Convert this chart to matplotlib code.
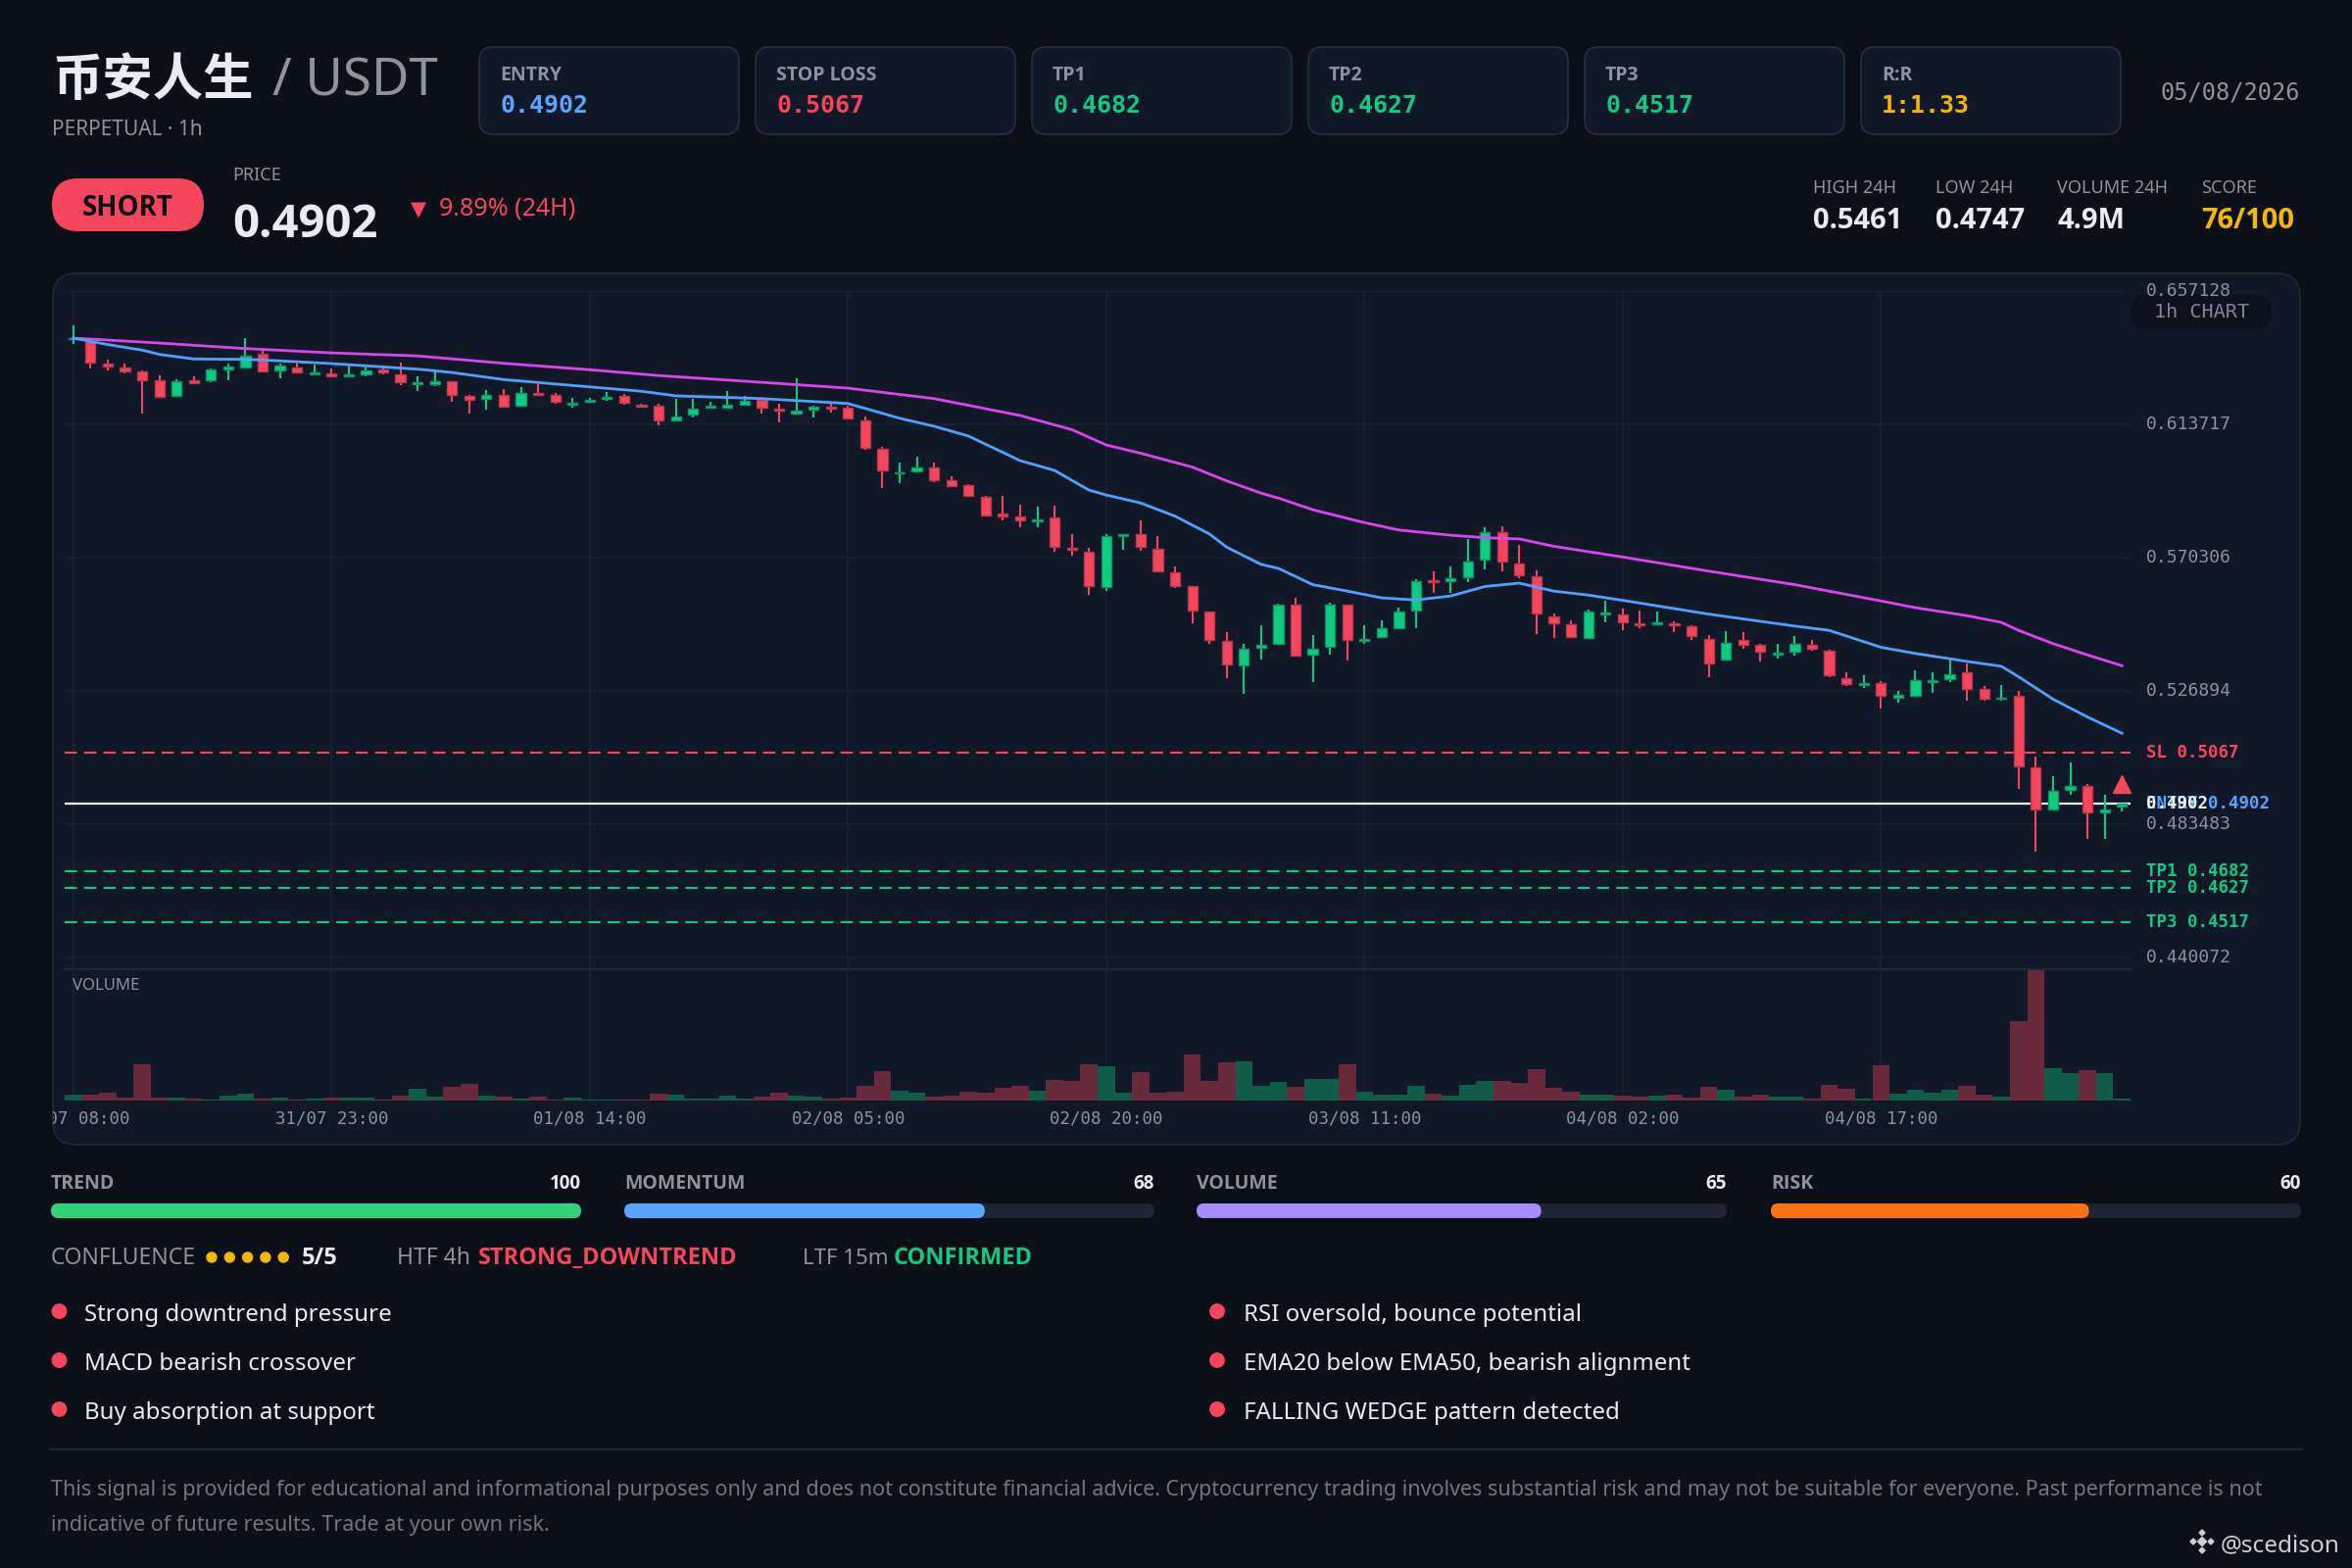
import matplotlib
matplotlib.use("Agg")
import matplotlib.pyplot as plt
from matplotlib import font_manager as fm
from matplotlib.patches import FancyBboxPatch, Circle, Polygon
from matplotlib.lines import Line2D
from matplotlib.transforms import Affine2D, Bbox, TransformedBbox, blended_transform_factory

# ---- values ----
symbol = "币安人生"
quote = "USDT"
entry, stop_loss = 0.4902, 0.5067
tp1, tp2, tp3 = 0.4682, 0.4627, 0.4517
rr = "1:1.33"
date_str = "05/08/2026"
price = 0.4902
change_24h = 9.89
high_24h, low_24h = 0.5461, 0.4747
vol_24h = "4.9M"
score = "76/100"
signal_price = 0.4965

# 1h candles, 30/07 08:00 -> 05/08 07:00
opens = [0.6414, 0.6407, 0.6335, 0.6323, 0.6310, 0.6280, 0.6229, 0.6282, 0.6280, 0.6317,
         0.6321, 0.6368, 0.6312, 0.6321, 0.6301, 0.6303, 0.6294, 0.6301, 0.6315, 0.6301,
         0.6267, 0.6268, 0.6277, 0.6230, 0.6219, 0.6232, 0.6198, 0.6240, 0.6234, 0.6202,
         0.6210, 0.6219, 0.6231, 0.6202, 0.6197, 0.6149, 0.6168, 0.6191, 0.6193, 0.6200,
         0.6216, 0.6189, 0.6173, 0.6184, 0.6196, 0.6191, 0.6151, 0.6058, 0.5977, 0.5985,
         0.5996, 0.5955, 0.5939, 0.5902, 0.5846, 0.5836, 0.5820, 0.5835, 0.5735, 0.5721,
         0.5606, 0.5772, 0.5779, 0.5732, 0.5656, 0.5610, 0.5528, 0.5432, 0.5351, 0.5410,
         0.5423, 0.5551, 0.5388, 0.5413, 0.5551, 0.5432, 0.5445, 0.5473, 0.5532, 0.5630,
         0.5628, 0.5639, 0.5698, 0.5787, 0.5684, 0.5644, 0.5513, 0.5487, 0.5442, 0.5518,
         0.5519, 0.5490, 0.5487, 0.5490, 0.5480, 0.5439, 0.5370, 0.5434, 0.5418, 0.5388,
         0.5397, 0.5420, 0.5400, 0.5312, 0.5289, 0.5296, 0.5248, 0.5253, 0.5298, 0.5308,
         0.5328, 0.5274, 0.5242, 0.5253, 0.5019, 0.4883, 0.4948, 0.4958, 0.4873, 0.4892]
highs = [0.6461, 0.6418, 0.6347, 0.6335, 0.6312, 0.6296, 0.6285, 0.6293, 0.6319, 0.6335,
         0.6418, 0.6376, 0.6335, 0.6335, 0.6333, 0.6319, 0.6335, 0.6324, 0.6328, 0.6338,
         0.6293, 0.6309, 0.6277, 0.6232, 0.6250, 0.6252, 0.6260, 0.6268, 0.6239, 0.6223,
         0.6223, 0.6243, 0.6235, 0.6205, 0.6205, 0.6221, 0.6219, 0.6211, 0.6245, 0.6229,
         0.6221, 0.6204, 0.6287, 0.6197, 0.6205, 0.6198, 0.6162, 0.6064, 0.6014, 0.6032,
         0.6013, 0.5969, 0.5943, 0.5904, 0.5904, 0.5875, 0.5869, 0.5872, 0.5779, 0.5734,
         0.5779, 0.5779, 0.5823, 0.5774, 0.5674, 0.5610, 0.5528, 0.5460, 0.5421, 0.5482,
         0.5554, 0.5572, 0.5450, 0.5556, 0.5551, 0.5482, 0.5500, 0.5540, 0.5633, 0.5659,
         0.5675, 0.5764, 0.5802, 0.5804, 0.5746, 0.5661, 0.5522, 0.5500, 0.5534, 0.5562,
         0.5537, 0.5530, 0.5528, 0.5495, 0.5482, 0.5452, 0.5464, 0.5461, 0.5423, 0.5423,
         0.5448, 0.5434, 0.5402, 0.5328, 0.5320, 0.5301, 0.5269, 0.5335, 0.5328, 0.5370,
         0.5359, 0.5285, 0.5287, 0.5269, 0.5056, 0.4992, 0.5035, 0.4966, 0.4932, 0.4903]
lows = [0.6400, 0.6319, 0.6312, 0.6303, 0.6173, 0.6223, 0.6227, 0.6268, 0.6274, 0.6280,
        0.6319, 0.6311, 0.6287, 0.6304, 0.6298, 0.6290, 0.6293, 0.6293, 0.6300, 0.6266,
        0.6246, 0.6262, 0.6209, 0.6171, 0.6184, 0.6193, 0.6198, 0.6230, 0.6205, 0.6193,
        0.6207, 0.6213, 0.6202, 0.6193, 0.6133, 0.6147, 0.6160, 0.6189, 0.6189, 0.6200,
        0.6172, 0.6145, 0.6171, 0.6161, 0.6177, 0.6155, 0.6055, 0.5929, 0.5945, 0.5985,
        0.5950, 0.5937, 0.5902, 0.5838, 0.5825, 0.5803, 0.5803, 0.5723, 0.5711, 0.5583,
        0.5593, 0.5727, 0.5724, 0.5654, 0.5604, 0.5490, 0.5421, 0.5309, 0.5260, 0.5370,
        0.5418, 0.5381, 0.5298, 0.5386, 0.5367, 0.5423, 0.5441, 0.5471, 0.5474, 0.5588,
        0.5588, 0.5623, 0.5666, 0.5659, 0.5636, 0.5455, 0.5442, 0.5442, 0.5437, 0.5492,
        0.5468, 0.5473, 0.5485, 0.5462, 0.5436, 0.5315, 0.5368, 0.5407, 0.5365, 0.5375,
        0.5384, 0.5399, 0.5315, 0.5285, 0.5278, 0.5210, 0.5232, 0.5251, 0.5264, 0.5298,
        0.5237, 0.5237, 0.5237, 0.4950, 0.4747, 0.4879, 0.4929, 0.4787, 0.4787, 0.4877]
closes = [0.6418, 0.6338, 0.6325, 0.6311, 0.6280, 0.6227, 0.6278, 0.6272, 0.6317, 0.6326,
          0.6362, 0.6311, 0.6328, 0.6306, 0.6306, 0.6293, 0.6299, 0.6314, 0.6305, 0.6274,
          0.6274, 0.6277, 0.6232, 0.6218, 0.6232, 0.6195, 0.6239, 0.6232, 0.6209, 0.6207,
          0.6216, 0.6228, 0.6207, 0.6195, 0.6150, 0.6162, 0.6189, 0.6198, 0.6200, 0.6213,
          0.6191, 0.6181, 0.6182, 0.6195, 0.6187, 0.6157, 0.6062, 0.5987, 0.5982, 0.5996,
          0.5955, 0.5937, 0.5905, 0.5841, 0.5838, 0.5824, 0.5828, 0.5737, 0.5727, 0.5609,
          0.5774, 0.5779, 0.5737, 0.5657, 0.5612, 0.5530, 0.5434, 0.5354, 0.5406, 0.5418,
          0.5551, 0.5383, 0.5405, 0.5551, 0.5434, 0.5439, 0.5473, 0.5528, 0.5628, 0.5622,
          0.5635, 0.5691, 0.5787, 0.5691, 0.5645, 0.5521, 0.5490, 0.5445, 0.5526, 0.5523,
          0.5492, 0.5482, 0.5491, 0.5483, 0.5447, 0.5357, 0.5426, 0.5420, 0.5397, 0.5392,
          0.5423, 0.5405, 0.5319, 0.5290, 0.5296, 0.5253, 0.5255, 0.5304, 0.5303, 0.5322,
          0.5276, 0.5242, 0.5248, 0.5024, 0.4883, 0.4944, 0.4960, 0.4872, 0.4883, 0.4902]
# volume in thousands
volumes = [60, 60, 80, 30, 370, 30, 33, 20, 10, 53,
           67, 23, 30, 10, 17, 27, 27, 30, 10, 53,
           117, 37, 143, 173, 50, 37, 17, 37, 10, 27,
           13, 10, 7, 7, 70, 57, 17, 23, 50, 20,
           40, 80, 53, 40, 17, 30, 153, 300, 100, 77,
           40, 47, 90, 83, 133, 150, 97, 210, 207, 370,
           350, 77, 290, 80, 90, 470, 207, 393, 407, 153,
           193, 143, 227, 220, 373, 87, 57, 57, 147, 70,
           53, 163, 207, 200, 183, 320, 130, 87, 60, 60,
           47, 40, 50, 63, 27, 140, 110, 37, 57, 40,
           43, 23, 160, 123, 20, 363, 67, 113, 77, 113,
           150, 60, 43, 817, 1340, 330, 283, 310, 280, 20]

ema20_idx = [0, 2, 4, 5, 7, 10, 12, 15, 20, 22, 25, 30, 33, 35, 40, 45, 46, 48, 50, 52,
             55, 57, 59, 60, 62, 64, 66, 67, 69, 70, 72, 74, 76, 78, 80, 82, 84, 86, 88, 90,
             95, 100, 102, 105, 107, 110, 112, 113, 115, 117, 119]
ema20_val = [0.6418, 0.6397, 0.6379, 0.6365, 0.6350, 0.6349, 0.6344, 0.6335, 0.6317, 0.6306,
             0.6283, 0.6259, 0.6245, 0.6230, 0.6221, 0.6205, 0.6189, 0.6157, 0.6131, 0.6099,
             0.6019, 0.5987, 0.5923, 0.5907, 0.5881, 0.5838, 0.5780, 0.5737, 0.5681, 0.5668,
             0.5615, 0.5594, 0.5572, 0.5565, 0.5578, 0.5609, 0.5620, 0.5594, 0.5581, 0.5564,
             0.5519, 0.5480, 0.5466, 0.5411, 0.5391, 0.5365, 0.5349, 0.5315, 0.5242, 0.5184,
             0.5131]
ema50_idx = [0, 5, 10, 15, 20, 25, 30, 34, 40, 45, 50, 55, 58, 60, 62, 65, 67, 69, 70, 72,
             75, 77, 80, 82, 84, 86, 90, 95, 100, 105, 107, 110, 112, 113, 115, 117, 119]
ema50_val = [0.6418, 0.6402, 0.6384, 0.6370, 0.6360, 0.6336, 0.6315, 0.6296, 0.6274, 0.6255,
             0.6221, 0.6166, 0.6120, 0.6070, 0.6043, 0.5998, 0.5953, 0.5913, 0.5897, 0.5859,
             0.5817, 0.5793, 0.5776, 0.5768, 0.5764, 0.5740, 0.5705, 0.5659, 0.5615, 0.5562,
             0.5540, 0.5514, 0.5492, 0.5466, 0.5423, 0.5386, 0.5351]

time_idx = [0, 15, 30, 45, 60, 75, 90, 105]
time_labels = ["30/07 08:00", "31/07 23:00", "01/08 14:00", "02/08 05:00",
               "02/08 20:00", "03/08 11:00", "04/08 02:00", "04/08 17:00"]
price_ticks = [0.440072, 0.483483, 0.526894, 0.570306, 0.613717, 0.657128]

score_names = ["TREND", "MOMENTUM", "VOLUME", "RISK"]
score_values = [100, 68, 65, 60]
score_colors = ["#34d17b", "#58a6ff", "#a78bfa", "#f97316"]

confluence, confluence_max = 5, 5
htf_trend = "STRONG_DOWNTREND"
ltf_state = "CONFIRMED"
reasons_left = ["Strong downtrend pressure", "MACD bearish crossover", "Buy absorption at support"]
reasons_right = ["RSI oversold, bounce potential", "EMA20 below EMA50, bearish alignment",
                 "FALLING WEDGE pattern detected"]
disclaimer = [
    "This signal is provided for educational and informational purposes only and does not constitute "
    "financial advice. Cryptocurrency trading involves substantial risk and may not be suitable for "
    "everyone. Past performance is not",
    "indicative of future results. Trade at your own risk.",
]
handle = "@scedison"

# ---- style ----
W, H = 2400, 1600
BG = "#0b0f17"
PANEL = "#111827"
EDGE = "#253043"
GRID = "#1a2331"
MUTED = "#8b949e"
WHITE = "#e6edf3"
RED = "#f6465d"
GREEN = "#0ecb81"
BLUE = "#58a6ff"
AMBER = "#f5b800"
MONO = ["DejaVu Sans Mono"]


def weight_of(f):
    w = f.weight
    if isinstance(w, str):
        w = {"bold": 700, "semibold": 600, "demibold": 600, "heavy": 800, "black": 900,
             "extra bold": 800}.get(w.lower(), 400)
    return w


# first sans family that really has a bold face
bold_fam = "DejaVu Sans"
for cand in ["Noto Sans", "Open Sans", "Lato", "Roboto", "Inter"]:
    if any(f.name == cand and weight_of(f) >= 600 for f in fm.fontManager.ttflist):
        bold_fam = cand
        break
SANS = ["Noto Sans", "Noto Sans CJK SC", "DejaVu Sans"]
SANS_B = [bold_fam, "DejaVu Sans"]

fig = plt.figure(figsize=(24, 16), dpi=100, facecolor=BG)
# pixel coords, origin top-left
PX = Affine2D().scale(1 / W, -1 / H).translate(0, 1) + fig.transFigure


def txt(x, y, s, size, color=WHITE, weight="normal", family=None, ha="left", va="baseline", transform=PX):
    if family is None:
        family = SANS_B if weight == "bold" else SANS
    return fig.text(x, y, s, transform=transform, fontsize=size, color=color,
                    fontweight=weight, family=family, ha=ha, va=va)


def rbox(x, y, w, h, r, fc, ec="none", lw=0, z=-5):
    p = FancyBboxPatch((x, y), w, h, boxstyle=f"round,pad=0,rounding_size={r}",
                       transform=PX, fc=fc, ec=ec, lw=lw, zorder=z)
    fig.add_artist(p)
    return p


def hline(x0, x1, y, color, lw):
    fig.add_artist(Line2D([x0, x1], [y, y], transform=PX, color=color, lw=lw, zorder=-3))


# ---- header ----
txt(54, 97, symbol, 37, WHITE, "bold", family=["Noto Sans CJK SC", "DejaVu Sans"])
txt(278, 97, "/ " + quote, 38, MUTED)
txt(53, 138, "PERPETUAL · 1h", 15, MUTED)

card_labels = ["ENTRY", "STOP LOSS", "TP1", "TP2", "TP3", "R:R"]
card_values = [f"{entry:.4f}", f"{stop_loss:.4f}", f"{tp1:.4f}", f"{tp2:.4f}", f"{tp3:.4f}", rr]
card_colors = [BLUE, RED, GREEN, GREEN, GREEN, AMBER]
for k in range(6):
    x = 489 + 282 * k
    rbox(x, 48, 265, 89, 14, PANEL, EDGE, 1.2)
    txt(x + 21, 82, card_labels[k], 14, MUTED, "bold")
    txt(x + 21, 115, card_values[k], 18, card_colors[k], "bold", family=MONO)

txt(2347, 102, date_str, 17, MUTED, family=MONO, ha="right")

rbox(53, 182, 155, 54, 27, RED)
txt(130.5, 220, "SHORT", 20, "#0b0f17", "bold", ha="center")
txt(237, 184, "PRICE", 13, MUTED)
txt(237, 242, f"{price:.4f}", 34, WHITE, "bold")
txt(419, 220, "▼", 15, RED, family=["DejaVu Sans"])
txt(448, 220, f"{change_24h:.2f}% (24H)", 18, RED)

stat_x = [1850, 1975, 2099, 2246]
stat_names = ["HIGH 24H", "LOW 24H", "VOLUME 24H", "SCORE"]
stat_vals = [f"{high_24h:.4f}", f"{low_24h:.4f}", vol_24h, score]
stat_cols = [WHITE, WHITE, WHITE, AMBER]
for x, nm, v, c in zip(stat_x, stat_names, stat_vals, stat_cols):
    txt(x, 197, nm, 13, MUTED)
    txt(x, 233, v, 21, c, "bold")

# ---- chart panel ----
rbox(54, 279, 2293, 889, 24, PANEL, "#1f2a3a", 1.2, z=-6)

n = len(closes)
idx = list(range(n))
step = price_ticks[1] - price_ticks[0]

ax = fig.add_axes([66 / W, 1 - 989 / H, 2108 / W, (989 - 297) / H])
ax.set_axis_off()
ax.set_xlim(-0.5, n - 0.5)
ax.set_ylim(price_ticks[0] - step * 12 / 136, price_ticks[-1])

axv = fig.add_axes([66 / W, 1 - 1123 / H, 2108 / W, (1123 - 989) / H])
axv.set_axis_off()
axv.set_xlim(-0.5, n - 0.5)
axv.set_ylim(0, max(volumes) * 1.01)

for v in price_ticks:
    ax.axhline(v, color=GRID, lw=1.2, zorder=0)
for t in time_idx:
    ax.axvline(t, color=GRID, lw=1.2, zorder=0)
    axv.axvline(t, color=GRID, lw=1.2, zorder=0)

# level lines
ax.axhline(stop_loss, color=RED, lw=1.5, ls=(0, (6, 3.5)), zorder=1)
for tp in (tp1, tp2, tp3):
    ax.axhline(tp, color=GREEN, lw=1.5, ls=(0, (6, 3.5)), zorder=1)
ax.axhline(entry, color="#f0f3f6", lw=1.6, zorder=1)

# candles
up = [c >= o for o, c in zip(opens, closes)]
cols = [GREEN if u else RED for u in up]
edges = ["#0b9463" if u else "#b8364b" for u in up]
bottoms = [min(o, c) for o, c in zip(opens, closes)]
bodies = [max(abs(c - o), 0.00035) for o, c in zip(opens, closes)]
ax.vlines(idx, lows, highs, colors=cols, lw=1.5, zorder=2)
ax.bar(idx, bodies, bottom=bottoms, width=0.58, color=cols, edgecolor=edges, linewidth=1, zorder=3)

ax.plot(ema50_idx, ema50_val, color="#d946ef", lw=2, zorder=4)
ax.plot(ema20_idx, ema20_val, color="#4ea1ff", lw=2, zorder=4)
ax.plot([n - 1], [signal_price], marker="^", ms=13, color=RED, ls="none", zorder=5)

# volume
vcols = ["#105c49" if u else "#68293c" for u in up]
axv.bar(idx, volumes, width=1.0, color=vcols, zorder=2)
hline(66, 2174, 989, "#1e2838", 1.5)
txt(74, 1010, "VOLUME", 12, MUTED)

# price labels on the right
yt = blended_transform_factory(PX, ax.transData)
for v in price_ticks:
    txt(2190, v, f"{v:.6f}", 13, MUTED, family=MONO, va="center", transform=yt)
txt(2190, stop_loss, f"SL {stop_loss:.4f}", 12.5, RED, "bold", family=MONO, va="center", transform=yt)
txt(2190, entry, f"ENTRY {entry:.4f}", 12.5, BLUE, "bold", family=MONO, va="center", transform=yt)
txt(2190, entry, f"{price:.4f}", 12.5, "#f0f3f6", "bold", family=MONO, va="center", transform=yt)
for nm, tp in (("TP1", tp1), ("TP2", tp2), ("TP3", tp3)):
    txt(2190, tp, f"{nm} {tp:.4f}", 12.5, GREEN, "bold", family=MONO, va="center", transform=yt)

rbox(2174, 300, 144, 36, 18, "#0c121c", z=-4)
txt(2246, 318, "1h CHART", 14.5, "#7d8590", family=MONO, ha="center", va="center")

# time labels, clipped to the panel
xt = blended_transform_factory(axv.transData, PX)
clip = TransformedBbox(Bbox([[54 / W, 0], [2347 / W, 1]]), fig.transFigure)
for t, lab in zip(time_idx, time_labels):
    tl = txt(t, 1142, lab, 12.5, MUTED, family=MONO, ha="center", va="center", transform=xt)
    tl.set_clip_box(clip)
    tl.set_clip_on(True)

# ---- score bars ----
bar_x = [52, 637, 1221, 1807]
bar_w = 541
for x, nm, v, c in zip(bar_x, score_names, score_values, score_colors):
    txt(x, 1213, nm, 14, MUTED, "bold")
    txt(x + bar_w, 1213, str(v), 13.5, WHITE, "bold", ha="right")
    rbox(x, 1228, bar_w, 15, 7.5, "#1e2533", z=-4)
    rbox(x, 1228, bar_w * v / 100, 15, 7.5, c, z=-3)

txt(52, 1290, "CONFLUENCE", 16.5, MUTED)
for k in range(confluence):
    fig.add_artist(Circle((216 + 18.3 * k, 1283), 5, transform=PX, color=AMBER))
txt(308, 1290, f"{confluence}/{confluence_max}", 17, WHITE, "bold")
txt(405, 1290, "HTF 4h", 16.5, MUTED)
txt(488, 1290, htf_trend, 17, RED, "bold")
txt(819, 1290, "LTF 15m", 16, MUTED)
txt(912, 1290, ltf_state, 17, GREEN, "bold")

row_y = [1348, 1398, 1448]
for y, s in zip(row_y, reasons_left):
    fig.add_artist(Circle((60.5, y - 10), 7.2, transform=PX, color=RED))
    txt(86, y, s, 17.3, WHITE)
for y, s in zip(row_y, reasons_right):
    fig.add_artist(Circle((1242, y - 10), 7.2, transform=PX, color=RED))
    txt(1269, y, s, 17.3, WHITE)

hline(52, 2348, 1479, "#1f2633", 1.5)
txt(52, 1526, disclaimer[0], 15.5, "#6e7681")
txt(52, 1562, disclaimer[1], 15.5, "#6e7681")

# small diamond logo + handle
cx, cy = 2247, 1573
for dx, dy, r in ((0, 0, 4.5), (0, -9, 3), (0, 9, 3), (-9, 0, 3), (9, 0, 3)):
    fig.add_artist(Polygon([(cx + dx, cy + dy - r), (cx + dx + r, cy + dy),
                            (cx + dx, cy + dy + r), (cx + dx - r, cy + dy)],
                           closed=True, transform=PX, color="#c9d1d9"))
txt(2266, 1583, handle, 17.5, "#c9d1d9")

fig.savefig("out.png", dpi=100, facecolor=BG)
